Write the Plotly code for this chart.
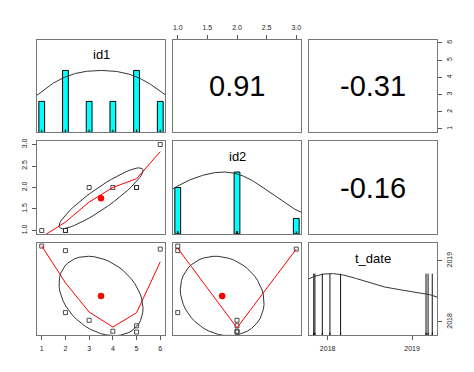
import numpy as np
import pandas as pd
import plotly.graph_objects as go

# ---------------- data ----------------
var_names = ["id1", "id2", "t_date"]
id1 = [1, 2, 2, 3, 4, 5, 5, 6]
id2 = [1, 1, 1, 2, 2, 2, 2, 3]
t_date = ["2019-03-29", "2019-03-02", "2018-02-26", "2018-01-11",
          "2017-11-07", "2017-12-09", "2017-11-02", "2019-03-11"]
id1_ticks = [1, 2, 3, 4, 5, 6]
id2_ticks = [1.0, 1.5, 2.0, 2.5, 3.0]
date_tick_labels = ["2018", "2019"]

# ---------------- layout constants ----------------
W, H = 474, 372
col_px = [(37, 165), (173, 301), (309, 437)]
row_px = [(36.8, 130.4), (139.2, 232.8), (241.6, 335.2)]
FONT = "Liberation Sans, Arial, Helvetica, sans-serif"
BOX = "#777777"
ADJUST = 1.2

EPOCH = np.datetime64("1970-01-01")
date_days = (np.array(t_date, dtype="datetime64[D]") - EPOCH).astype(float)
vals = [np.array(id1, float), np.array(id2, float), date_days]
is_date = [False, False, True]
ticks_num = [id1_ticks, id2_ticks, None]


def as_axis(v, i):
    v = np.atleast_1d(np.asarray(v, float))
    if is_date[i]:
        return list(pd.to_datetime(v, unit="D").strftime("%Y-%m-%d %H:%M:%S"))
    return list(v)


def var_range(i):
    v = vals[i]
    lo, hi = v.min(), v.max()
    pad = 0.04 * (hi - lo)
    return as_axis([lo - pad, hi + pad], i)


def tick_spec(i):
    if is_date[i]:
        return dict(tickvals=[f"{t}-01-01" for t in date_tick_labels], ticktext=date_tick_labels)
    t = ticks_num[i]
    frac = any(float(a) != int(a) for a in t)
    return dict(tickvals=t, ticktext=[f"{x:.1f}" if frac else f"{int(x)}" for x in t])


def r_lowess(x, y, f=2 / 3, nsteps=3):
    x = np.asarray(x, float)
    y = np.asarray(y, float)
    o = np.argsort(x, kind="stable")
    x = x[o]
    y = y[o]
    n = len(x)
    rng = x[-1] - x[0]
    delta = 0.01 * rng
    ns = max(2, min(n, int(f * n + 1e-7)))
    ys = np.zeros(n)
    rw = np.ones(n)

    def lowest(xs, nleft, nright, userw):
        h = max(xs - x[nleft], x[nright] - xs)
        h9 = 0.999 * h
        h1 = 0.001 * h
        w = np.zeros(n)
        a = 0.0
        j = nleft
        while j < n:
            r = abs(x[j] - xs)
            if r <= h9:
                w[j] = 1.0 if r <= h1 else (1 - (r / h) ** 3) ** 3
                if userw:
                    w[j] *= rw[j]
                a += w[j]
            elif x[j] > xs:
                break
            j += 1
        nrt = j - 1
        if a <= 0:
            return None
        sl = slice(nleft, nrt + 1)
        w[sl] /= a
        if h > 0:
            a = np.sum(w[sl] * x[sl])
            b = xs - a
            c = np.sum(w[sl] * (x[sl] - a) ** 2)
            if np.sqrt(c) > 0.001 * rng:
                b /= c
                w[sl] *= (b * (x[sl] - a) + 1)
        return np.sum(w[sl] * y[sl])

    it = 1
    while it <= nsteps + 1:
        nleft, nright, last, i = 0, ns - 1, -1, 0
        while True:
            if nright < n - 1:
                d1 = x[i] - x[nleft]
                d2 = x[nright + 1] - x[i]
                if d1 > d2:
                    nleft += 1
                    nright += 1
                    continue
            v = lowest(x[i], nleft, nright, it > 1)
            ys[i] = y[i] if v is None else v
            if last < i - 1:
                denom = x[i] - x[last]
                for j in range(last + 1, i):
                    al = (x[j] - x[last]) / denom
                    ys[j] = al * ys[i] + (1 - al) * ys[last]
            last = i
            cut = x[last] + delta
            i = last + 1
            while i < n:
                if x[i] > cut:
                    break
                if x[i] == x[last]:
                    ys[i] = ys[last]
                    last = i
                i += 1
            i = max(last + 1, i - 1)
            if last >= n - 1:
                break
        res = y - ys
        sc = np.sum(np.abs(res)) / n
        if it > nsteps:
            break
        ar = np.abs(res)
        srt = np.sort(ar)
        m1 = n // 2
        cmad = 3 * (srt[m1 - 1] + srt[m1]) if n % 2 == 0 else 6 * srt[m1]
        if cmad < 1e-7 * sc:
            break
        c9, c1 = 0.999 * cmad, 0.001 * cmad
        rw = np.where(ar <= c1, 1.0, np.where(ar <= c9, (1 - (ar / cmad) ** 2) ** 2, 0.0))
        it += 1
    return x, ys


def ellipse_pts(xm, ym, xs, ys, r, segments=51):
    ang = np.arange(segments + 1) * 2 * np.pi / segments
    uc = np.column_stack([np.cos(ang), np.sin(ang)])
    theta = np.sign(r) / np.sqrt(2) if abs(r) > 0 else 1 / np.sqrt(2)
    shape = np.diag([np.sqrt(1 + r), np.sqrt(1 - r)]) @ np.array([[theta, theta], [-theta, theta]])
    e = uc @ shape
    return e[:, 0] * xs + xm, e[:, 1] * ys + ym


def kde_curve(v):
    q1, q3 = np.percentile(v, [25, 75])
    bw = ADJUST * 1.06 * min(np.std(v, ddof=1), (q3 - q1) / 1.34) * len(v) ** (-0.2)
    gx = np.linspace(v.min() - 3 * bw, v.max() + 3 * bw, 512)
    gy = np.exp(-0.5 * ((gx[:, None] - v[None, :]) / bw) ** 2).sum(1)
    return gx, gy / gy.max()


fig = go.Figure()
layout = dict(width=W, height=H, margin=dict(l=0, r=0, t=0, b=0),
              paper_bgcolor="white", plot_bgcolor="white", showlegend=False,
              hovermode=False, annotations=[])

tickfont = dict(family=FONT, size=7, color="#222222")


def base_axis():
    return dict(showgrid=False, zeroline=False, showline=True, mirror=True,
                linecolor=BOX, linewidth=1, ticks="", showticklabels=False,
                fixedrange=True)


def show_ticks(ax, i, side, angle=None):
    ax.update(ticks="outside", ticklen=4, tickwidth=1, tickcolor="#555555",
              showticklabels=True, tickfont=tickfont, side=side, ticklabelstandoff=2,
              **tick_spec(i))
    if angle is not None:
        ax["tickangle"] = angle


nv = 3
for r in range(nv):
    for c in range(nv):
        k = r * nv + c + 1
        xs_name = "x" if k == 1 else f"x{k}"
        ys_name = "y" if k == 1 else f"y{k}"
        xa = base_axis()
        ya = base_axis()
        xa.update(domain=[col_px[c][0] / W, col_px[c][1] / W], anchor=ys_name,
                  range=var_range(c), type="date" if is_date[c] else "linear")
        ya.update(domain=[1 - row_px[r][1] / H, 1 - row_px[r][0] / H], anchor=xs_name)
        if r == c:
            ya.update(range=[0, 1.5], type="linear")
            v = vals[c]
            u, cnt = np.unique(v, return_counts=True)
            heights = cnt / cnt.max()
            inter = np.min(np.diff(u)) * (len(u) - 1) / 41
            if is_date[c]:
                # bars are sub-pixel wide here: only their outlines show, as thin lines
                bx, by = [], []
                for uu, hh in zip(u, heights):
                    p = as_axis(uu, c)[0]
                    bx += [p, p, None]
                    by += [0, hh, None]
                fig.add_trace(go.Scatter(x=bx, y=by, mode="lines",
                                         line=dict(color="#111111", width=1),
                                         xaxis=xs_name, yaxis=ys_name))
            else:
                fig.add_trace(go.Bar(x=as_axis(u, c), y=heights, width=2 * inter,
                                     marker=dict(color="#00FFFF", line=dict(color="black", width=1)),
                                     xaxis=xs_name, yaxis=ys_name))
            gx, gy = kde_curve(v)
            fig.add_trace(go.Scatter(x=as_axis(gx, c), y=gy, mode="lines",
                                     line=dict(color="#333333", width=1),
                                     xaxis=xs_name, yaxis=ys_name))
            rx, ry = [], []
            for val in v:
                p = as_axis(val, c)[0]
                rx += [p, p, None]
                ry += [0, 0.045, None]
            fig.add_trace(go.Scatter(x=rx, y=ry, mode="lines",
                                     line=dict(color="black", width=1),
                                     xaxis=xs_name, yaxis=ys_name))
            layout["annotations"].append(dict(
                text=var_names[c], x=0.5, y=1 - 15.5 / (row_px[r][1] - row_px[r][0]),
                xref=f"{xs_name} domain", yref=f"{ys_name} domain",
                showarrow=False, xanchor="center", yanchor="middle",
                font=dict(family=FONT, size=13, color="black")))
        else:
            ya.update(range=var_range(r), type="date" if is_date[r] else "linear")
            xv, yv = vals[c], vals[r]
            rr = np.corrcoef(xv, yv)[0, 1]
            if r > c:
                fig.add_trace(go.Scatter(x=as_axis(xv, c), y=as_axis(yv, r), mode="markers",
                                         marker=dict(symbol="square-open", size=4, color="#222222",
                                                     line=dict(width=0.8, color="#222222")),
                                         xaxis=xs_name, yaxis=ys_name))
                lx, ly = r_lowess(xv, yv)
                fig.add_trace(go.Scatter(x=as_axis(lx, c), y=as_axis(ly, r), mode="lines",
                                         line=dict(color="red", width=1),
                                         xaxis=xs_name, yaxis=ys_name))
                ex, ey = ellipse_pts(xv.mean(), yv.mean(), xv.std(ddof=1), yv.std(ddof=1), rr)
                fig.add_trace(go.Scatter(x=as_axis(ex, c), y=as_axis(ey, r), mode="lines",
                                         line=dict(color="#333333", width=1),
                                         xaxis=xs_name, yaxis=ys_name))
                fig.add_trace(go.Scatter(x=as_axis(xv.mean(), c), y=as_axis(yv.mean(), r),
                                         mode="markers", marker=dict(color="red", size=6.5),
                                         xaxis=xs_name, yaxis=ys_name))
            else:
                # invisible anchor so the (empty) correlation panel is drawn
                fig.add_trace(go.Scatter(x=as_axis(xv.mean(), c), y=as_axis(yv.mean(), r),
                                         mode="markers", marker=dict(opacity=0),
                                         xaxis=xs_name, yaxis=ys_name))
                layout["annotations"].append(dict(
                    text=f"{rr:.2f}", x=0.5, y=0.5,
                    xref=f"{xs_name} domain", yref=f"{ys_name} domain",
                    showarrow=False, xanchor="center", yanchor="middle",
                    font=dict(family=FONT, size=29, color="black")))
        # axes placement like R pairs(): top for even columns / bottom for odd, right/left alternating rows
        if r == 0 and c % 2 == 1:
            show_ticks(xa, c, "top")
        if r == nv - 1 and c % 2 == 0:
            show_ticks(xa, c, "bottom")
        if c == 0 and r % 2 == 1:
            show_ticks(ya, r, "left", -90)
        if c == nv - 1 and r % 2 == 0 and r != c:
            show_ticks(ya, r, "right", -90)
        layout["xaxis" if k == 1 else f"xaxis{k}"] = xa
        layout["yaxis" if k == 1 else f"yaxis{k}"] = ya

# right-hand date scale for the last row (drawn over the diagonal panel)
k_diag = nv * nv
extra = nv * nv + 1
ya_extra = dict(showgrid=False, zeroline=False, showline=False, fixedrange=True,
                overlaying=f"y{k_diag}", anchor=f"x{k_diag}", type="date",
                range=var_range(nv - 1))
show_ticks(ya_extra, nv - 1, "right", -90)
layout[f"yaxis{extra}"] = ya_extra
mid = as_axis(vals[nv - 1].mean(), nv - 1)
fig.add_trace(go.Scatter(x=mid, y=mid, mode="markers", marker=dict(opacity=0),
                         xaxis=f"x{k_diag}", yaxis=f"y{extra}"))

fig.update_layout(**layout)
fig.write_html("out.html", config={"displayModeBar": False, "staticPlot": True},
               post_script="document.body.style.margin='0';")
